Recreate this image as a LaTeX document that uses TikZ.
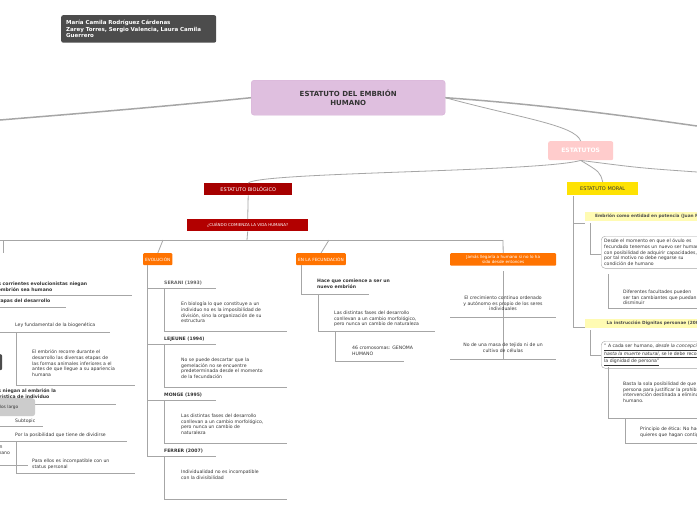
\documentclass[tikz,border=0pt]{standalone}
\usepackage{fontspec}
\setmainfont{DejaVu Sans}
\begin{document}
\begin{tikzpicture}[x=1pt,y=-1pt,
 t/.style={font=\fontsize{4.6}{5.6}\selectfont,text=black!80,inner sep=0pt,anchor=north west,align=left},
 tb/.style={t,font=\fontsize{4.6}{5.6}\selectfont\bfseries},
 ln/.style={draw=black!35,line width=0.8pt},
 ob/.style={fill=orange!90!red,text=white,font=\fontsize{4.3}{5.4}\selectfont,rounded corners=1pt,inner sep=2pt,anchor=north west,align=center},
 ym/.style={fill=yellow!30!white,text=black!70,font=\fontsize{4.3}{5.4}\selectfont\bfseries,inner sep=2pt,anchor=north west}]
\useasboundingbox (0,0) rectangle (697,520);
\clip (0,0) rectangle (697,520);
\fill[white] (0,0) rectangle (697,520);
% top
\node[fill=black!70,text=white,rounded corners=2pt,font=\fontsize{5.5}{6.5}\selectfont\bfseries,align=left,text width=145pt,anchor=north west,inner sep=5pt] (auth) at (61,15) {María Camila Rodríguez Cárdenas\\Zarey Torres, Sergio Valencia, Laura Camila Guerrero};
\node[fill=violet!25,draw=violet!30,rounded corners=3pt,font=\fontsize{7}{8.5}\selectfont\bfseries,text=black!80,align=center,minimum width=194pt,minimum height=35pt,anchor=north west] (main) at (251,80) {ESTATUTO DEL EMBRIÓN\\HUMANO};
\coordinate (L0) at (0,120); \coordinate (R0) at (697,126);
\draw[ln,line width=1.5pt] (main.west) .. controls (150,108) and (60,115) .. (L0);
\draw[ln,line width=1.5pt] (main.east) .. controls (550,105) and (640,118) .. (R0);
\node[fill=pink!80,text=white,font=\fontsize{6}{7}\selectfont\bfseries,rounded corners=2pt,minimum width=65pt,minimum height=19pt,anchor=north west] (est) at (548,141) {ESTATUTOS};
\draw[ln] (main.east) .. controls (520,118) and (575,125) .. (est.north);
\node[fill=red!65!black,text=white,font=\fontsize{5}{6}\selectfont,minimum width=88pt,minimum height=12pt,anchor=north west,inner sep=1pt] (bio) at (204,183) {ESTATUTO BIOLÓGICO};
\node[fill=yellow!85!orange,text=black!80,font=\fontsize{5}{6}\selectfont,minimum width=71pt,minimum height=13pt,anchor=north west,inner sep=1pt] (mor) at (567,182) {ESTATUTO MORAL};
\coordinate (R1) at (697,172);
\draw[ln] (est.south) .. controls (540,172) and (260,172) .. (bio.north);
\draw[ln] (est.south) .. controls (600,172) .. (mor.north);
\draw[ln] (est.south) .. controls (640,168) .. (R1);
\node[fill=red!70!black,text=white,font=\fontsize{4}{5}\selectfont,minimum width=121pt,minimum height=12pt,anchor=north west,inner sep=1pt] (cuando) at (187,219) {¿CUÁNDO COMIENZA LA VIDA HUMANA?};
\draw[ln] (bio.south) -- (cuando.north);
% level
\node[ob,minimum height=12pt] (as) at (-25,253) {ETAPAS};
\node[ob,minimum height=12pt] (evo) at (143,253) {EVOLUCIÓN};
\node[ob,minimum height=12pt] (fec) at (296,253) {EN LA FECUNDACIÓN};
\node[ob,text width=102pt,font=\fontsize{4.1}{5.2}\selectfont] (jam) at (450,253) {Jamás llegaría a humano si no lo ha\\sido desde entonces};
\draw[ln] (cuando.south) -- (247,240);
\draw[ln] (0,240) -- (503,240);
\foreach \n/\x in {evo/163,fec/329,jam/503} \draw[ln] (\x,240) -- (\n.north);
\draw[ln] (3,240) -- (3,253);
% left column
\node[tb] (a1) at (-20,282) {Algunas corrientes evolucionistas niegan\\que el embrión sea humano};
\draw[ln] (0,295) -- (132,295);
\node[tb] (a2) at (-5,299) {Etapas del desarrollo};
\draw[ln] (0,307) -- (66,307);
\node[t] (a3) at (15,323) {Ley fundamental de la biogenética};
\draw[ln] (0,332) -- (110,332);
\draw[ln] (16,332) -- (16,385) -- (135,385);
\node[t,text width=100pt] (a4) at (32,350) {El embrión recorre durante el\\desarrollo las diversas etapas de\\las formas animales inferiores a el\\antes de que llegue a su apariencia\\humana};
\node[fill=black!70,rounded corners=2pt,minimum width=10pt,minimum height=16pt,anchor=north west] (dk) at (-8,354) {};
\node[tb] (a5) at (-20,389) {Algunos niegan al embrión la\\característica de individuo};
\draw[ln] (0,404) -- (116,404);
\node[fill=black!20,rounded corners=3pt,text=black!80,font=\fontsize{4.3}{5.4}\selectfont,anchor=north west,minimum width=45pt,minimum height=18pt,align=left,text width=40pt,inner sep=2pt] (gr) at (-10,398) {\quad\ \ los largo};
\node[t] (a6) at (15,419) {Subtopic};
\draw[ln] (0,426) -- (43,426);
\node[t] (a7) at (15,433) {Por la posibilidad que tiene de dividirse};
\draw[ln] (0,441) -- (127,441);
\draw[ln] (16,441) -- (16,473) -- (135,473);
\node[t] (a8) at (32,459) {Para ellos es incompatible con un\\status personal};
\node[t] (a9) at (-8,446) {\quad un\\\quad mano};
\draw[ln] (0,465) -- (28,465);
% evolución column
\draw[ln] (147,265) -- (147,456);
\foreach \y in {281,337,393,449} \draw[ln] (147,\y+7) -- (216,\y+7);
\node[tb,text=black!60] (s1) at (164,281) {SERANI (1993)};
\node[tb] (s2) at (164,337) {LEJEUNE (1994)};
\node[tb] (s3) at (164,393) {MONGE (1995)};
\node[tb] (s4) at (164,449) {FERRER (2007)};
\foreach \y in {288,344,400,456} \draw[ln] (164,\y) -- (164,\y+43) -- (287,\y+43);
\node[t] at (181,302) {En biología lo que constituye a un\\individuo no es la imposibilidad de\\división, sino la organización de su\\estructura};
\node[t] at (181,358) {No se puede descartar que la\\gemelación no se encuentre\\predeterminada desde el momento\\de la fecundación};
\node[t] at (181,414) {Las distintas fases del desarrollo\\conllevan a un cambio morfológico,\\pero nunca un cambio de\\naturaleza};
\node[t] at (181,470) {Individualidad no es incompatible\\con la divisibilidad};
% fecundación column
\draw[ln] (301,265) -- (301,294) -- (369,294);
\node[tb] at (317,279) {Hace que comience a ser un\\nuevo embrión};
\draw[ln] (318,294) -- (318,331) -- (435,331);
\node[t] at (334,311) {Las distintas fases del desarrollo\\conllevan a un cambio morfológico,\\pero nunca un cambio de naturaleza};
\draw[ln] (335,331) -- (335,361) -- (404,361);
\node[t] at (352,346) {46 cromosomas: GENOMA\\HUMANO};
% jamás column
\draw[ln] (503,271) -- (503,359);
\draw[ln] (450,317) -- (556,317);
\draw[ln] (450,359) -- (556,359);
\node[t,align=center,anchor=north] at (503,296) {El crecimiento continuo ordenado\\y autónomo es propio de los seres\\individuales};
\node[t,align=center,anchor=north] at (503,343) {No de una masa de tejido ni de un\\cultivo de células};
% moral
\draw[ln] (573,196) -- (573,327);
\node[ym,minimum width=140pt,anchor=north west] at (585,212) {Embrión como entidad en potencia (Juan Pablo II)};
\draw[ln] (573,223) -- (585,223);
\draw[ln] (590,223) -- (590,254) -- (601,254);
\node[draw=black!35,rounded corners=4pt,t,inner sep=3pt,anchor=north west] at (601,236) {Desde el momento en que el óvulo es\\fecundado tenemos un nuevo ser humano\\con posibilidad de adquirir capacidades,\\por tal motivo no debe negarse su\\condición de humano};
\draw[ln] (608,274) -- (608,308) -- (697,308);
\node[t] at (623,290) {Diferentes facultades pueden\\ser tan cambiantes que puedan\\disminuir};
\node[ym,minimum width=140pt,anchor=north west] at (585,319) {La instrucción Dignitas personae (2008)};
\draw[ln] (573,327) -- (585,327);
\draw[ln] (590,330) -- (590,355) -- (601,355);
\node[draw=black!35,rounded corners=4pt,t,inner sep=3pt,anchor=north west] at (601,341) {\underline{" A cada ser humano, \textit{desde la concepción}}\\\underline{\textit{hasta la muerte natural}, se le debe reconocer}\\\underline{la dignidad de persona"}};
\draw[ln] (608,367) -- (608,418) -- (697,418);
\node[t] at (623,382) {Basta la sola posibilidad de que sea\\persona para justificar la prohibición de\\intervención destinada a eliminar el embrión\\humano.};
\draw[ln] (625,418) -- (625,443) -- (697,443);
\node[t] at (640,427) {Principio de ética: No hagas lo que no\\quieres que hagan contigo};
\end{tikzpicture}
\end{document}
